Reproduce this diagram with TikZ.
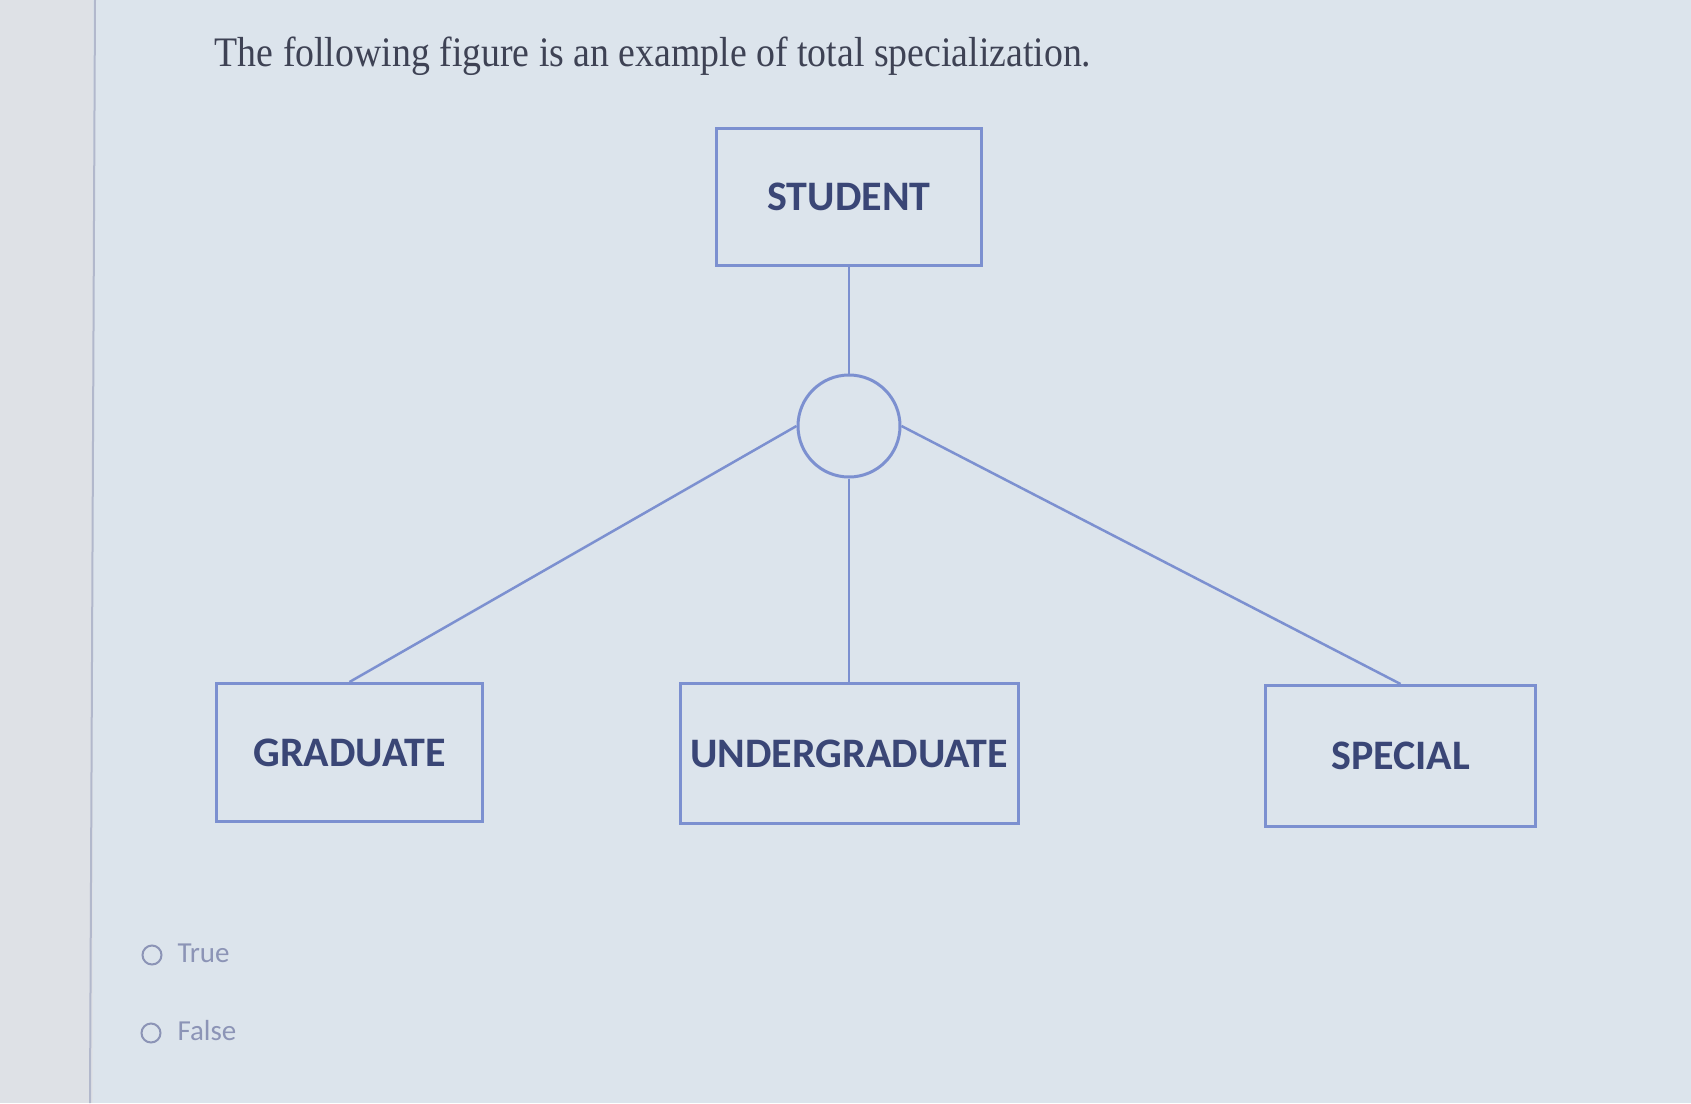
\documentclass[tikz,border=0pt]{standalone}
\usepackage{fontspec}
\usepackage{tikz}
\setmainfont{Liberation Serif}
\newfontfamily\boxfont{Carlito}

\definecolor{bg}{RGB}{220,228,236}
\definecolor{margin}{RGB}{222,225,230}
\definecolor{rule}{RGB}{178,184,204}
\definecolor{erline}{RGB}{124,144,208}
\definecolor{erink}{RGB}{58,70,118}
\definecolor{titleink}{RGB}{62,66,84}
\definecolor{faint}{RGB}{140,148,182}

\tikzset{
  entity/.style={draw=erline, line width=3pt, inner sep=0pt, text=erink,
    font=\boxfont\bfseries\fontsize{42}{50}\selectfont},
  link/.style={draw=erline, line width=2.5pt},
  radio/.style={circle, draw=faint, line width=2pt, minimum size=19pt, inner sep=0pt},
  choice/.style={anchor=west, text=faint, font=\boxfont\fontsize{29}{34}\selectfont}
}

\begin{document}
\begin{tikzpicture}[x=1pt,y=-1pt] % pixel grid of the screenshot
\useasboundingbox (0,0) rectangle (1691,1103);
\fill[bg] (0,0) rectangle (1691,1103);
\fill[margin] (0,0) rectangle (93,1103);
\draw[rule, line width=2pt] (95,0) -- (90,1103);

\node (question) at (653,56) {\color{titleink}\scalebox{0.9}[1]{\fontsize{42}{48}\selectfont The following figure is an example of total specialization.}};

\node[entity, minimum width=265pt, minimum height=137pt] (student) at (849,197) {STUDENT};
\node[circle, draw=erline, line width=3pt, minimum size=102pt, inner sep=0pt] (spec) at (849,426) {};

\node[entity, minimum width=266pt, minimum height=138pt] (graduate) at (349.5,752.5) {GRADUATE};
\node[entity, minimum width=338pt, minimum height=140pt] (undergrad) at (849,753.5) {UNDERGRADUATE};
\node[entity, minimum width=270pt, minimum height=141pt] (special) at (1400.5,756) {SPECIAL};

\draw[link] (student.south) -- (spec.north);
\draw[link] (spec.west) -- (graduate.north);
\draw[link] (spec.south) -- (undergrad.north);
\draw[link] (spec.east) -- (special.north);

\node[radio] (truebox) at (152,955) {};
\node[choice] (truetext) at (174,953) {True};
\node[radio] (falsebox) at (151,1033) {};
\node[choice] (falsetext) at (174,1031) {False};

\end{tikzpicture}
\end{document}
